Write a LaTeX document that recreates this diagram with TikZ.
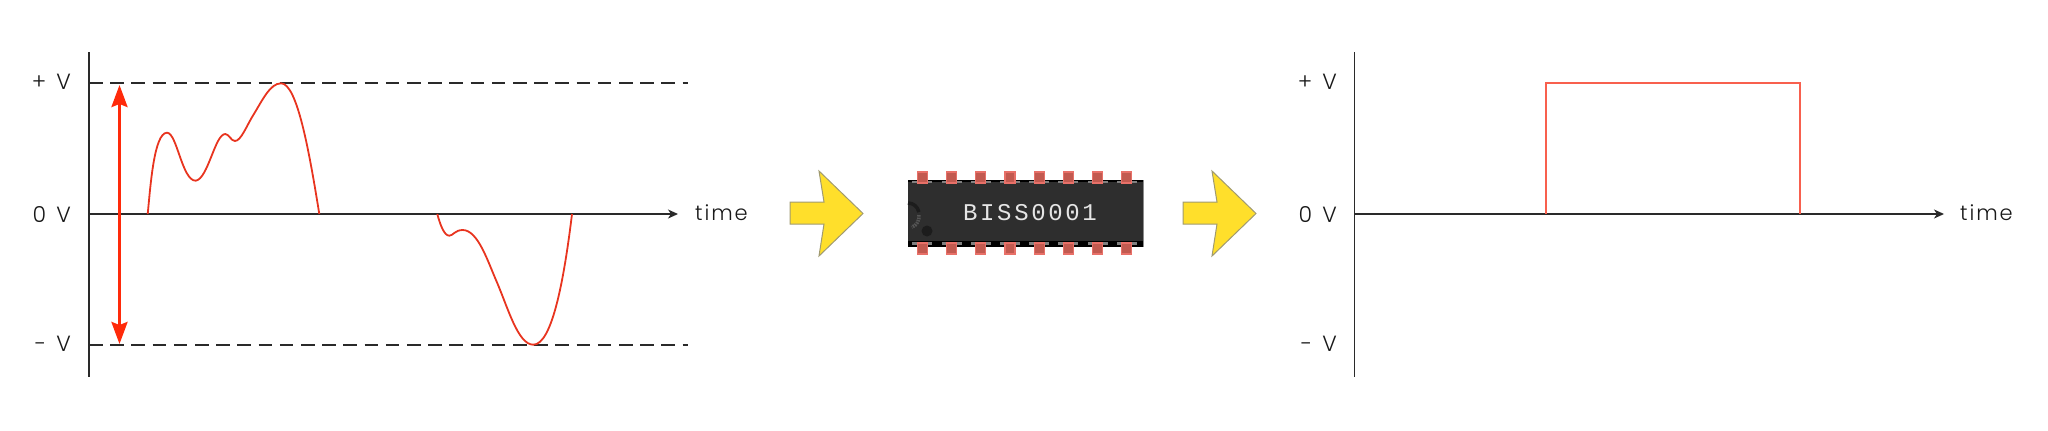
\documentclass[tikz,border=0pt]{standalone}
\usepackage{fontspec}
\setmainfont{Poppins Light}
\newfontfamily\timefont[LetterSpace=9]{Poppins Light}
\newfontfamily\chipfont[LetterSpace=11]{Liberation Mono}
\usetikzlibrary{arrows.meta}
\definecolor{sigred}{HTML}{E8341F}
\definecolor{rectred}{HTML}{F8604E}
\definecolor{ared}{HTML}{FF2A0A}
\definecolor{axisc}{HTML}{2A2A2A}
\definecolor{yel}{HTML}{FFDF2B}
\definecolor{yelb}{HTML}{A09A70}
\definecolor{chipc}{HTML}{2E2E2E}
\definecolor{chipd}{HTML}{1C1C1C}
\definecolor{chipn}{HTML}{555555}
\definecolor{pinc}{HTML}{C25A50}
\definecolor{pinb}{HTML}{E87068}
\tikzset{
 axisline/.style={draw=axisc,line width=1.5pt},
 axisarrow/.style={axisline,-{Stealth[length=10pt,width=9pt,inset=3pt]}},
 dashline/.style={draw=axisc,line width=1.6pt,dash pattern=on 13.5pt off 7.7pt},
 signal/.style={draw=sigred,line width=1.8pt,line join=round},
 timelab/.style={font=\timefont\fontsize{21}{21}\selectfont,text=black!90,inner sep=0pt,anchor=west},
 vlab/.style={font=\fontsize{22}{22}\selectfont,text=black!90,inner sep=0pt,anchor=east},
 bigarrow/.style={fill=yel,draw=yelb,line width=1pt,line join=miter},
 pin/.style={fill=pinc,draw=pinb,line width=1.2pt,minimum width=10pt,minimum height=11pt,inner sep=0pt},
}
\begin{document}
\begin{tikzpicture}[x=1pt,y=-1pt]
\useasboundingbox (0,0) rectangle (2048,431);
% left plot
\coordinate (ltop) at (89,52); \coordinate (lbot) at (89,377);
\coordinate (lzero) at (89,214); \coordinate (lend) at (678,214);
\coordinate (lp) at (89,83); \coordinate (lpe) at (688,83);
\coordinate (ln) at (89,345); \coordinate (lne) at (688,345);
\draw[axisline] (ltop) -- (lbot);
\draw[axisarrow] (lzero) -- (lend);
\draw[dashline] (lp) -- (lpe);
\draw[dashline] (ln) -- (lne);
\node[vlab] (lplus) at (71,82) {+\hspace{4pt} V};
\node[vlab] (lzl) at (71,214.5) {0\hspace{4pt} V};
\node[vlab] (lminus) at (71,344) {-\hspace{4pt} V};
\node[timelab] (ltime) at (695,213) {time};
\coordinate (au) at (119.5,85); \coordinate (ad) at (119.5,344);
\draw[draw=ared,line width=3pt,{Stealth[length=22pt,width=16pt,inset=3pt]}-{Stealth[length=22pt,width=16pt,inset=3pt]}] (au) -- (ad);
\draw[signal] (147.7,214) .. controls (150.5,186) and (154,133) .. (167,132.7)
 .. controls (177,132.7) and (182,180.7) .. (195.7,180.7)
 .. controls (208,179) and (215,134) .. (225.3,134)
 .. controls (229,134) and (231,141) .. (235,141)
 .. controls (241,141) and (247,125) .. (253.3,115)
 .. controls (262,101) and (270,83.3) .. (281,83.3)
 .. controls (297,83.3) and (309,150) .. (319.3,214);
\draw[signal] (437.3,214) .. controls (440,224) and (444,235.7) .. (449.3,235.7)
 .. controls (453,235.7) and (455,230) .. (462.7,230)
 .. controls (478,230) and (488,262) .. (496.7,281.7)
 .. controls (508,308) and (518,344.7) .. (533.3,344.7)
 .. controls (552,344.7) and (564,280) .. (572,214);
% yellow arrows
\foreach \n/\o in {a/0,b/393}{
 \draw[bigarrow,shift={(\o,0)}] (790,202) -- (824,202) -- (819,171) -- (863,213.5) -- (819,256) -- (824,224) -- (790,224) -- cycle;
}
% chip
\fill[chipc] (908,180) rectangle (1143,247);
\fill[black] (908,180) rectangle (1143,182);
\fill[black] (908,241) rectangle (1143,247);
\draw[black!45,line width=.8pt] (1143,180) -- (1143,247);
\draw[chipd,line width=3.5pt] (908,203) arc (90:10:11pt);
\draw[chipn,line width=3.5pt,dash pattern=on 1.5pt off 1pt] (918.8,215) arc (10:-70:11pt);
\fill[chipd] (927,231) circle (5.5pt);
\foreach \i in {0,...,7}{
 \fill[black!50] ({922.3+29.2*\i-10},180.5) rectangle ({922.3+29.2*\i+10},183);
 \fill[black!50] ({922.3+29.2*\i-10},242) rectangle ({922.3+29.2*\i+10},245);
 \node[pin] (pt\i) at ({922.3+29.2*\i},177.5) {};
 \node[pin] (pb\i) at ({922.3+29.2*\i},248.5) {};
}
\node[font=\chipfont\fontsize{24}{24}\selectfont,text=white!90!black,inner sep=0pt] (chipname) at (1030,213) {BISS0001};
% right plot
\coordinate (rtop) at (1354.5,52); \coordinate (rbot) at (1354.5,377);
\coordinate (rzero) at (1354.5,214); \coordinate (rend) at (1944,214);
\draw[axisline] (rtop) -- (rbot);
\draw[axisarrow] (rzero) -- (rend);
\node[vlab] (rplus) at (1337,82) {+\hspace{4pt} V};
\node[vlab] (rzl) at (1337,214.5) {0\hspace{4pt} V};
\node[vlab] (rminus) at (1337,344) {-\hspace{4pt} V};
\node[timelab] (rtime) at (1960,213) {time};
\draw[draw=rectred,line width=1.8pt,line join=miter] (1546,214) -- (1546,83.3) -- (1800,83.3) -- (1800,214);
\end{tikzpicture}
\end{document}
